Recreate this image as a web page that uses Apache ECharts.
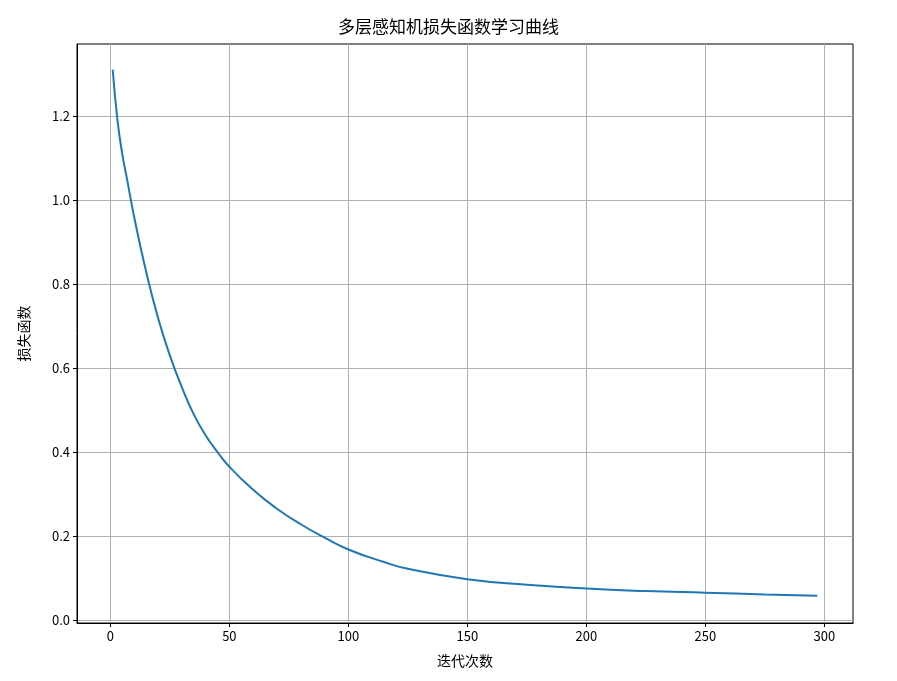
<!DOCTYPE html>
<html>
<head>
    <meta charset="utf-8" />
    <title>损失函数学习曲线</title>
    <style>
        body { margin: 0; background: #fff; }
        .main { width: 897px; height: 681px; }
    </style>
    <script src="https://cdn.jsdelivr.net/npm/echarts@6/dist/echarts.min.js"></script>
</head>
<body>
    <div class="main"></div>
    <script type="text/javascript">
        // 迭代次数与损失值
        const iters = [1, 3, 5, 7, 10, 15, 20, 25, 30, 35, 40, 45, 50, 60, 70, 80, 90, 100, 115, 125, 150, 175, 200, 225, 250, 275, 297];
        const losses = [1.31, 1.19, 1.11, 1.05, 0.96, 0.83, 0.72, 0.63, 0.555, 0.49, 0.44, 0.40, 0.365, 0.31, 0.265, 0.228, 0.196, 0.168, 0.138, 0.122, 0.097, 0.084, 0.075, 0.069, 0.065, 0.061, 0.058];
        const xTicks = [0, 50, 100, 150, 200, 250, 300];
        const yTicks = [0, 0.2, 0.4, 0.6, 0.8, 1.0, 1.2];

        const font = '"Noto Sans CJK SC", "DejaVu Sans", sans-serif';
        var myChart = echarts.init(document.querySelector('.main'));
        var option = {
            animation: false,
            title: {
                text: '多层感知机损失函数学习曲线',
                left: 'center', top: 13,
                textStyle: { fontFamily: font, fontSize: 17, fontWeight: 'normal', color: '#000' }
            },
            grid: {
                left: 77, right: 44, top: 44, bottom: 58,
                show: true, borderColor: '#000', borderWidth: 1
            },
            xAxis: {
                type: 'value', min: -14, max: 312,
                name: '迭代次数', nameLocation: 'middle', nameGap: 31,
                nameTextStyle: { fontFamily: font, fontSize: 14, color: '#000' },
                axisLine: { show: true, onZero: false, lineStyle: { color: '#000' } },
                axisTick: { show: true, inside: false, length: 4, customValues: xTicks, lineStyle: { color: '#000' } },
                axisLabel: { customValues: xTicks, fontFamily: font, fontSize: 13, color: '#000', margin: 7 },
                splitLine: { show: true, lineStyle: { color: '#b0b0b0' } }
            },
            yAxis: {
                type: 'value', min: -0.007, max: 1.371,
                name: '损失函数', nameLocation: 'middle', nameGap: 46,
                nameTextStyle: { fontFamily: font, fontSize: 14, color: '#000' },
                axisLine: { show: true, onZero: false, lineStyle: { color: '#000' } },
                axisTick: { show: true, length: 4, customValues: yTicks, lineStyle: { color: '#000' } },
                axisLabel: { customValues: yTicks, fontFamily: font, fontSize: 13, color: '#000', margin: 7,
                    formatter: v => v.toFixed(1) },
                splitLine: { show: true, lineStyle: { color: '#b0b0b0' } }
            },
            series: [{
                type: 'line',
                data: iters.map((x, i) => [x, losses[i]]),
                smooth: true,
                showSymbol: false,
                lineStyle: { color: '#1f77b4', width: 2 }
            }]
        };
        myChart.setOption(option);
    </script>
</body>
</html>
